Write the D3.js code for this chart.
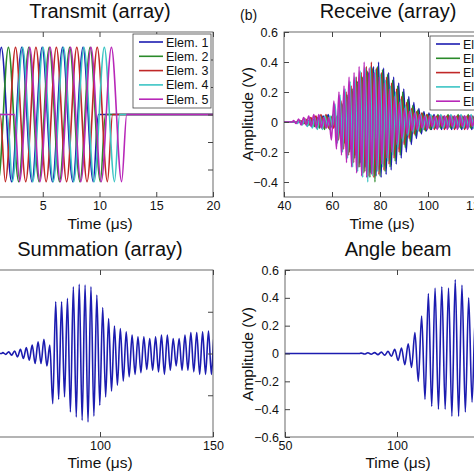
<!DOCTYPE html>
<html><head><meta charset="utf-8">
<script src="https://cdn.jsdelivr.net/npm/d3@7"></script>
<style>body{margin:0;background:#fff}svg{font-family:"Liberation Sans",Arial,sans-serif}</style>
</head><body><svg id="c" width="474" height="474"></svg>
<script>
// ---- data ----
const elemNames = ["Elem. 1","Elem. 2","Elem. 3","Elem. 4","Elem. 5"];
const elemColors = ["#1c1cb0","#2a8a2a","#c02828","#3cc4c4","#b828b8"];
// Transmit: burst start times (µs), half-period, peak amplitudes
const txStart = [0, 0.625, 1.25, 1.875, 2.5];
const txHalf = 0.9;
const txPeaks = [1.22,1.22,1.22,1.22,1.22,1.22,1.22,1.22,1.22,1.22,1.22];
// Receive: start, half-period, per-element shift and half-cycle amplitudes
const rxStart = 44, rxHalf = 1.05;
const rxShift = [6, 4.5, 3, 1.5, 0];
const rxPeaks = [0.01,0.01,0.02,0.02,0.03,0.02,0.04,0.03,0.05,0.04,0.05,0.04,0.03,0.04,0.03,
  0.12,0.14,0.18,0.2,0.22,0.24,0.27,0.3,0.3,0.33,0.34,0.37,0.36,0.4,0.37,0.36,0.35,0.33,0.32,
  0.3,0.28,0.26,0.24,0.22,0.2,0.17,0.15,0.13,0.11,0.09,0.08,0.07,0.06,0.06,0.05,0.05,0.04,
  0.04,0.05,0.04,0.03,0.04,0.05,0.04,0.03,0.04,0.05,0.04,0.03,0.04,0.05,0.04,0.03,0.04,0.05,0.04,0.03,0.04];
// Summation
const sumStart = 57, sumHalf = 1.3;
const sumPeaks = [0.01,0.01,0.02,0.02,0.03,0.04,0.05,0.06,0.07,0.08,0.1,0.12,0.14,0.12,0.17,0.15,0.1,
  0.6,0.62,0.55,0.62,0.52,0.66,0.7,0.8,0.76,0.83,0.8,0.82,0.82,0.8,0.75,0.7,0.62,0.55,0.52,0.42,0.45,
  0.33,0.38,0.3,0.33,0.26,0.28,0.22,0.25,0.2,0.23,0.2,0.19,0.18,0.2,0.2,0.22,0.22,0.25,0.22,0.2,0.18,
  0.15,0.18,0.2,0.22,0.2,0.25,0.22,0.25,0.25,0.26,0.25,0.27,0.25,0.26];
// Angle beam
const angStart = 84, angHalf = 1.5;
const angPeaks = [0.003,0.004,0.005,0.005,0.006,0.008,0.01,0.012,0.015,0.02,0.03,0.05,0.04,0.08,0.07,0.1,
  0.15,0.2,0.27,0.33,0.43,0.38,0.47,0.4,0.48,0.4,0.47,0.45,0.53,0.45,0.49,0.42,0.4,0.35,0.28,0.2,0.1,0.05];
const tickA = [-1,-0.5,0,0.5,1];
const tickB = [0.6,0.4,0.2,0,-0.2,-0.4];
const tickC = [-0.5,0,0.5];
const tickD = [-0.6,-0.4,-0.2,0,0.2,0.4,0.6];

// ---- drawing ----
const svg = d3.select("#c");
function pts(start, half, peaks, sign){
  const p=[[start-half/2,0]];
  peaks.forEach((a,i)=>p.push([start+i*half,(i%2? -1:1)*sign*a]));
  p.push([start+(peaks.length-0.5)*half,0]);
  return p;
}
let cid=0;
function panel(o){
  const x=d3.scaleLinear().domain(o.xd).range(o.xr);
  const y=d3.scaleLinear().domain(o.yd).range(o.yr);
  const g=svg.append("g");
  const id="cl"+(cid++);
  g.append("clipPath").attr("id",id).append("rect")
   .attr("x",o.xr[0]).attr("y",o.yr[1]).attr("width",o.xr[1]-o.xr[0]).attr("height",o.yr[0]-o.yr[1]);
  const pg=g.append("g").attr("clip-path",`url(#${id})`);
  const line=d3.line().x(d=>x(d[0])).y(d=>y(d[1])).curve(d3.curveMonotoneX);
  o.series.forEach(s=>{
    let p=s.pts;
    if(s.flat){p=[[o.xd[0],0],...p,[o.xd[1],0]];}
    pg.append("path").attr("d",line(p)).attr("fill","none").attr("stroke",s.color).attr("stroke-width",1.6);
  });
  g.append("rect").attr("x",o.xr[0]).attr("y",o.yr[1]).attr("width",o.xr[1]-o.xr[0]).attr("height",o.yr[0]-o.yr[1])
   .attr("fill","none").attr("stroke","#444").attr("stroke-width",0.8);
  g.append("g").attr("transform",`translate(0,${o.yr[0]})`).call(d3.axisBottom(x).tickValues(o.xt).tickSize(-5).tickPadding(4).tickFormat(d3.format("d")))
   .call(a=>{a.select(".domain").remove();a.selectAll("line").attr("stroke","#444");a.selectAll("text").attr("font-size",12.5).attr("fill","#111");});
  g.append("g").attr("transform",`translate(0,${o.yr[1]})`).call(d3.axisTop(x).tickValues(o.xt).tickSize(-5).tickFormat(""))
   .call(a=>{a.select(".domain").remove();a.selectAll("line").attr("stroke","#444");});
  g.append("g").attr("transform",`translate(${o.xr[0]},0)`).call(d3.axisLeft(y).tickValues(o.yt).tickSize(-5).tickPadding(6).tickFormat(d=>d===0?"0":d3.format(".1f")(d)))
   .call(a=>{a.select(".domain").remove();a.selectAll("line").attr("stroke","#444");a.selectAll("text").attr("font-size",12.5).attr("fill","#111");});
  g.append("g").attr("transform",`translate(${o.xr[1]},0)`).call(d3.axisRight(y).tickValues(o.yt).tickSize(-5).tickFormat(""))
   .call(a=>{a.select(".domain").remove();a.selectAll("line").attr("stroke","#444");});
  svg.append("text").attr("x",o.title[1]).attr("y",o.title[2]).attr("text-anchor","middle").attr("font-size",20).attr("fill","#111").text(o.title[0]);
  svg.append("text").attr("x",o.xl[0]).attr("y",o.xl[1]).attr("text-anchor","middle").attr("font-size",15.5).attr("fill","#111").text("Time (μs)");
  if(o.yl) svg.append("text").attr("transform",`translate(${o.yl[0]},${o.yl[1]}) rotate(-90)`).attr("text-anchor","middle").attr("font-size",15.5).attr("fill","#111").text("Amplitude (V)");
  if(o.legend){
    const L=o.legend;
    svg.append("rect").attr("x",L[0]).attr("y",L[1]).attr("width",L[2]).attr("height",74).attr("fill","#fff").attr("stroke","#444").attr("stroke-width",0.8);
    elemNames.forEach((n,i)=>{
      const yy=L[1]+8+i*14.3;
      svg.append("line").attr("x1",L[0]+6).attr("x2",L[0]+30).attr("y1",yy).attr("y2",yy).attr("stroke",elemColors[i]).attr("stroke-width",1.6);
      svg.append("text").attr("x",L[0]+33).attr("y",yy+4.5).attr("font-size",12.5).attr("fill","#111").text(n);
    });
  }
}
panel({xd:[0,20],xr:[-14,213],yd:[-1.5,1.5],yr:[197,32],xt:[0,5,10,15,20],yt:tickA,
  title:["Transmit (array)",100,18],xl:[100,229],legend:[133,34,78],
  series:txStart.map((s,i)=>({color:elemColors[i],flat:true,pts:pts(s+txHalf/2,txHalf,txPeaks,-1)}))});
panel({xd:[40,140],xr:[284,524],yd:[-0.5,0.6],yr:[197,32],xt:[40,60,80,100,120,140],yt:tickB,
  title:["Receive (array)",388,18],xl:[382,229],yl:[253,114],legend:[430,36,60],
  series:rxShift.map((s,i)=>({color:elemColors[i],flat:true,pts:pts(rxStart+s,rxHalf,rxPeaks,i%2?-1:1)}))});
panel({xd:[50,150],xr:[-13,213],yd:[-1,1],yr:[437,270],xt:[50,100,150],yt:tickC,
  title:["Summation (array)",100,256],xl:[100,468],
  series:[{color:"#1c1cb0",flat:true,pts:pts(sumStart,sumHalf,sumPeaks,1)}]});
panel({xd:[50,150],xr:[285,509],yd:[-0.6,0.6],yr:[437,270],xt:[50,100,150],yt:tickD,
  title:["Angle beam",398,256],xl:[398,468],yl:[253,354],
  series:[{color:"#1c1cb0",flat:true,pts:pts(angStart,angHalf,angPeaks,1)}]});
svg.append("text").attr("x",240).attr("y",20).attr("font-size",14).attr("fill","#111").text("(b)");
</script></body></html>
